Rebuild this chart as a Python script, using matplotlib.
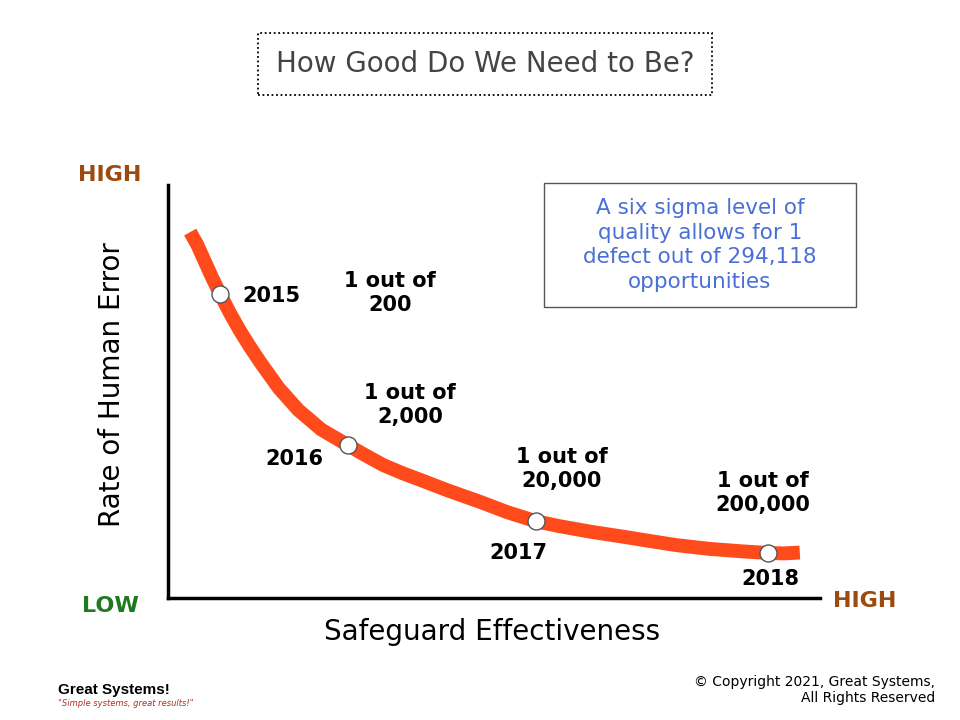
import matplotlib
matplotlib.use("Agg")
import matplotlib.pyplot as plt
from matplotlib.patches import FancyBboxPatch

curve_x = [0.34, 0.45, 0.55, 0.67, 0.80, 0.95, 1.10, 1.25, 1.41, 1.70, 2.00, 2.35, 2.76, 3.00, 3.30, 3.60, 3.87, 4.30, 4.80, 5.20, 5.64, 6.00, 6.50, 7.00, 7.39, 7.80, 8.30, 8.80, 9.20, 9.45, 9.69]
curve_y = [8.86, 8.55, 8.20, 7.78, 7.36, 6.90, 6.48, 6.10, 5.72, 5.08, 4.55, 4.08, 3.70, 3.48, 3.22, 3.02, 2.86, 2.60, 2.32, 2.08, 1.86, 1.74, 1.60, 1.48, 1.38, 1.28, 1.19, 1.13, 1.09, 1.08, 1.10]
years = ["2015", "2016", "2017", "2018"]
year_x = [0.80, 2.76, 5.64, 9.20]
year_y = [7.36, 3.70, 1.86, 1.09]
rates = ["1 out of\n200", "1 out of\n2,000", "1 out of\n20,000", "1 out of\n200,000"]

W, H = 960, 720
fig = plt.figure(figsize=(9.6, 7.2), dpi=100)
def fx(px): return px / W
def fy(py): return 1 - py / H

ax = fig.add_axes([fx(168), fy(598), (820 - 168) / W, (598 - 185) / H])
ax.set_xlim(0, 10); ax.set_ylim(0, 10)
for s in ["top", "right"]:
    ax.spines[s].set_visible(False)
for s in ["left", "bottom"]:
    ax.spines[s].set_linewidth(2.5)
ax.set_xticks([]); ax.set_yticks([])
ax.plot(curve_x, curve_y, color="#FF4A1C", lw=10, solid_capstyle="butt", solid_joinstyle="round")
ax.scatter(year_x, year_y, s=150, facecolor="white", edgecolor="#555555", zorder=3, linewidths=1)

bold = dict(fontsize=15, fontweight="bold", family="DejaVu Sans", color="black")
fig.text(fx(242), fy(296), years[0], ha="left", va="center", **bold)
fig.text(fx(294), fy(459), years[1], ha="center", va="center", **bold)
fig.text(fx(518), fy(553), years[2], ha="center", va="center", **bold)
fig.text(fx(770), fy(579), years[3], ha="center", va="center", **bold)
fig.text(fx(390), fy(293), rates[0], ha="center", va="center", linespacing=1.25, **bold)
fig.text(fx(410), fy(405), rates[1], ha="center", va="center", linespacing=1.25, **bold)
fig.text(fx(562), fy(469), rates[2], ha="center", va="center", linespacing=1.25, **bold)
fig.text(fx(763), fy(493), rates[3], ha="center", va="center", linespacing=1.25, **bold)

lab = dict(fontsize=16, fontweight="bold", family="DejaVu Sans")
fig.text(fx(110), fy(175), "HIGH", ha="center", va="center", color="#9C4A0E", **lab)
fig.text(fx(110), fy(606), "LOW", ha="center", va="center", color="#1E7A1E", **lab)
fig.text(fx(865), fy(601), "HIGH", ha="center", va="center", color="#9C4A0E", **lab)
fig.text(fx(112), fy(385), "Rate of Human Error", rotation=90, ha="center", va="center", fontsize=20, family="DejaVu Sans")
fig.text(fx(492), fy(632), "Safeguard Effectiveness", ha="center", va="center", fontsize=20, family="DejaVu Sans")

fig.patches.append(FancyBboxPatch((fx(258), fy(95)), fx(712) - fx(258), fy(33) - fy(95), boxstyle="square,pad=0",
                                  transform=fig.transFigure, fill=False, ls=(0, (1, 1.5)), lw=1.3, ec="black"))
fig.text(fx(485), fy(64), "How Good Do We Need to Be?", ha="center", va="center", fontsize=20, family="DejaVu Sans", color="#444444")

fig.patches.append(FancyBboxPatch((fx(544), fy(307)), fx(856) - fx(544), fy(183) - fy(307), boxstyle="square,pad=0",
                                  transform=fig.transFigure, fill=False, lw=1, ec="#555555"))
fig.text(fx(700), fy(245), "A six sigma level of\nquality allows for 1\ndefect out of 294,118\nopportunities", ha="center", va="center",
         fontsize=15.5, family="DejaVu Sans", color="#4A6FD6", linespacing=1.3)

fig.text(fx(935), fy(690), "© Copyright 2021, Great Systems,\nAll Rights Reserved", ha="right", va="center", fontsize=10, family="DejaVu Sans")
fig.text(fx(58), fy(690), "Great Systems!", ha="left", va="center", fontsize=11, fontweight="bold", family="Liberation Sans")
fig.text(fx(58), fy(704), "\"Simple systems, great results!\"", ha="left", va="center", fontsize=6, style="italic", color="#B03020")

fig.savefig("out.png", dpi=100)
